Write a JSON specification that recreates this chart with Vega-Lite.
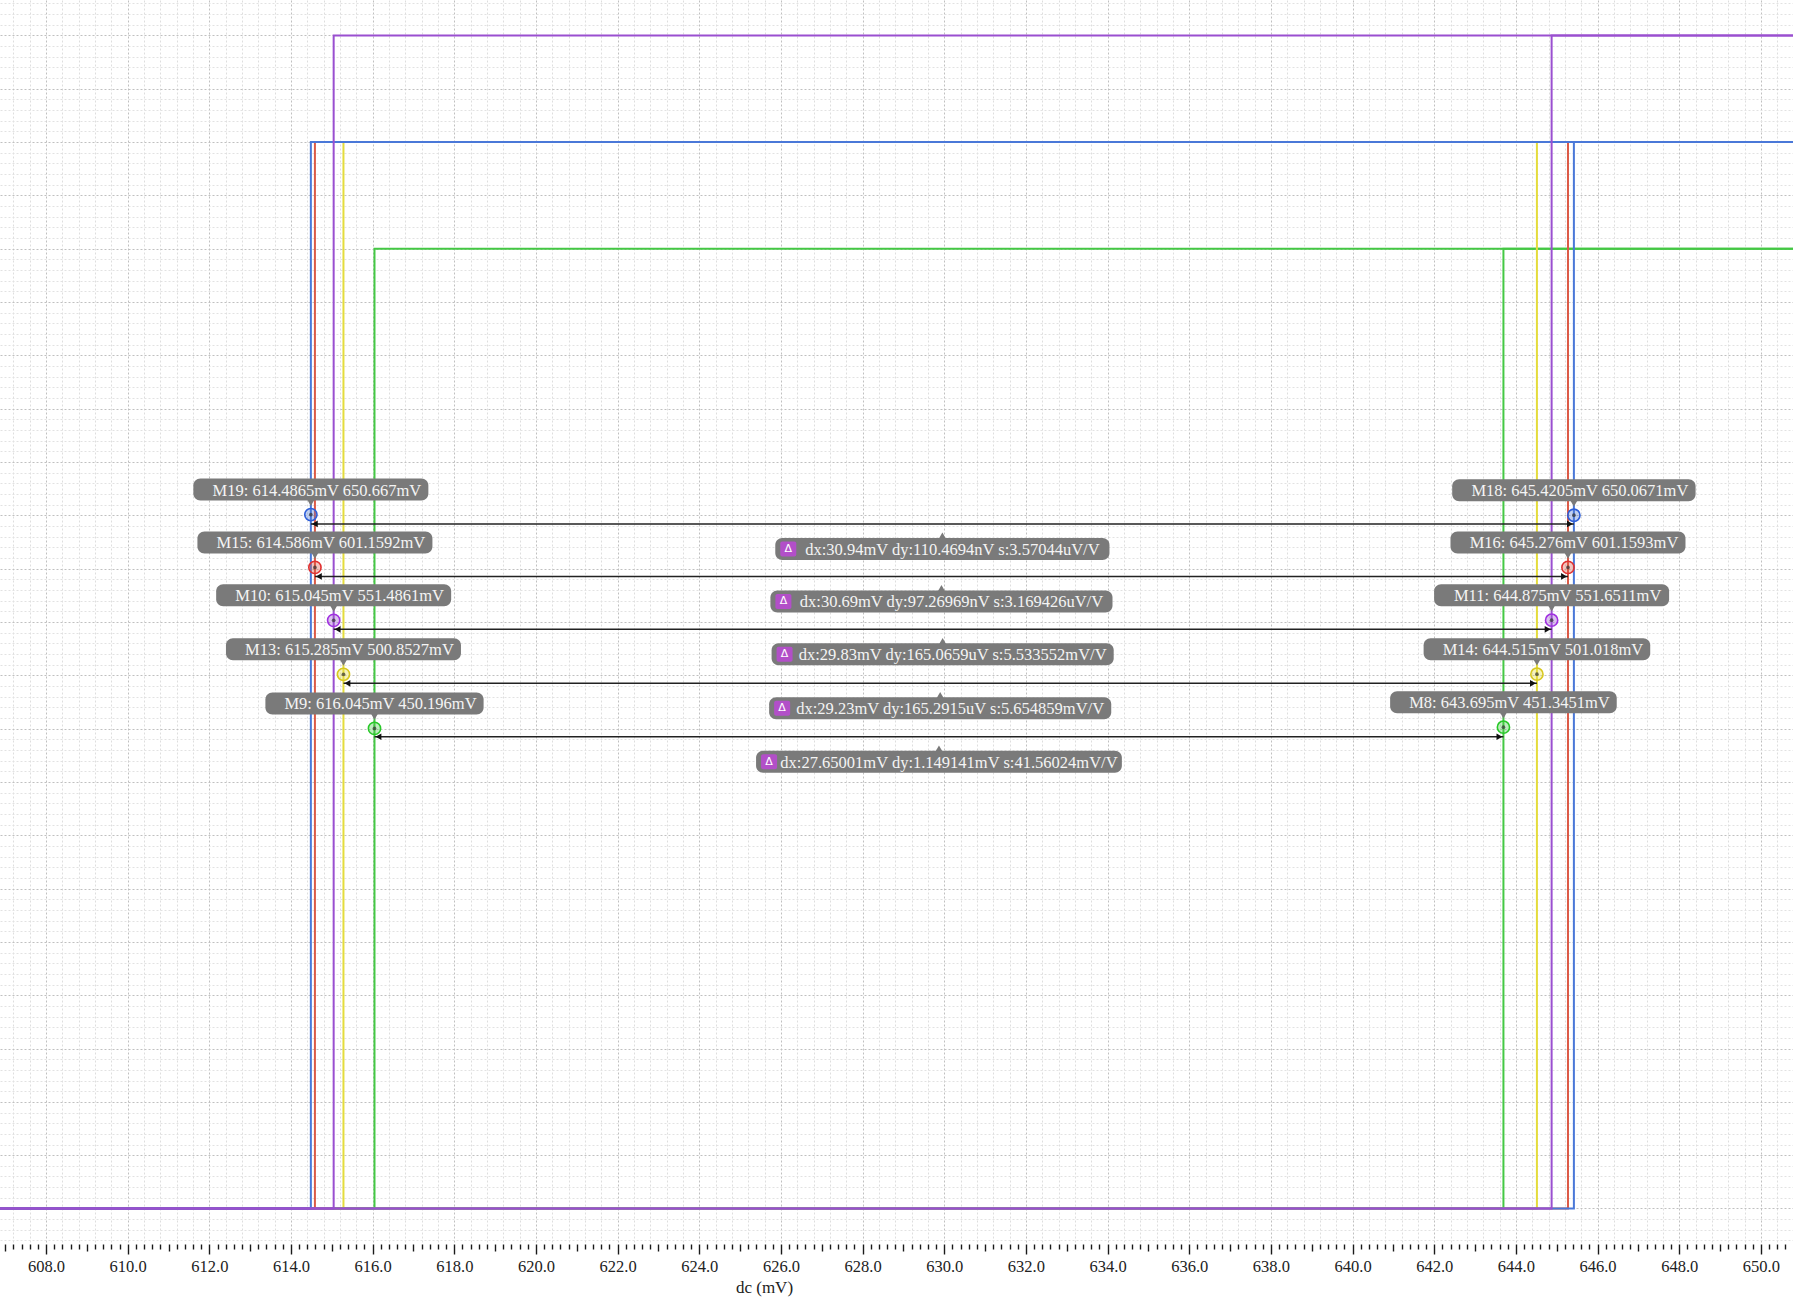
{
  "$schema": "https://vega.github.io/schema/vega-lite/v6.json",
  "width": 1793,
  "height": 1244,
  "autosize": {"type": "none"},
  "padding": {"left": 0, "top": 0, "right": 0, "bottom": 61},
  "background": "#ffffff",
  "config": {"view": {"stroke": null}},
  "datasets": {
    "traces": [
      {"trace": "green", "sweep": "up", "i": 0, "x": 600, "y": 0},
      {"trace": "green", "sweep": "up", "i": 1, "x": 616.045, "y": 0},
      {"trace": "green", "sweep": "up", "i": 2, "x": 616.045, "y": 900},
      {"trace": "green", "sweep": "up", "i": 3, "x": 660, "y": 900},
      {"trace": "green", "sweep": "down", "i": 0, "x": 660, "y": 900},
      {"trace": "green", "sweep": "down", "i": 1, "x": 643.695, "y": 900},
      {"trace": "green", "sweep": "down", "i": 2, "x": 643.695, "y": 0},
      {"trace": "green", "sweep": "down", "i": 3, "x": 600, "y": 0},
      {"trace": "yellow", "sweep": "up", "i": 0, "x": 600, "y": 0},
      {"trace": "yellow", "sweep": "up", "i": 1, "x": 615.285, "y": 0},
      {"trace": "yellow", "sweep": "up", "i": 2, "x": 615.285, "y": 1000},
      {"trace": "yellow", "sweep": "up", "i": 3, "x": 660, "y": 1000},
      {"trace": "yellow", "sweep": "down", "i": 0, "x": 660, "y": 1000},
      {"trace": "yellow", "sweep": "down", "i": 1, "x": 644.515, "y": 1000},
      {"trace": "yellow", "sweep": "down", "i": 2, "x": 644.515, "y": 0},
      {"trace": "yellow", "sweep": "down", "i": 3, "x": 600, "y": 0},
      {"trace": "red", "sweep": "up", "i": 0, "x": 600, "y": 0},
      {"trace": "red", "sweep": "up", "i": 1, "x": 614.586, "y": 0},
      {"trace": "red", "sweep": "up", "i": 2, "x": 614.586, "y": 1000},
      {"trace": "red", "sweep": "up", "i": 3, "x": 660, "y": 1000},
      {"trace": "red", "sweep": "down", "i": 0, "x": 660, "y": 1000},
      {"trace": "red", "sweep": "down", "i": 1, "x": 645.276, "y": 1000},
      {"trace": "red", "sweep": "down", "i": 2, "x": 645.276, "y": 0},
      {"trace": "red", "sweep": "down", "i": 3, "x": 600, "y": 0},
      {"trace": "blue", "sweep": "up", "i": 0, "x": 600, "y": 0},
      {"trace": "blue", "sweep": "up", "i": 1, "x": 614.4865, "y": 0},
      {"trace": "blue", "sweep": "up", "i": 2, "x": 614.4865, "y": 1000},
      {"trace": "blue", "sweep": "up", "i": 3, "x": 660, "y": 1000},
      {"trace": "blue", "sweep": "down", "i": 0, "x": 660, "y": 1000},
      {"trace": "blue", "sweep": "down", "i": 1, "x": 645.4205, "y": 1000},
      {"trace": "blue", "sweep": "down", "i": 2, "x": 645.4205, "y": 0},
      {"trace": "blue", "sweep": "down", "i": 3, "x": 600, "y": 0},
      {"trace": "purple", "sweep": "up", "i": 0, "x": 600, "y": 0},
      {"trace": "purple", "sweep": "up", "i": 1, "x": 615.045, "y": 0},
      {"trace": "purple", "sweep": "up", "i": 2, "x": 615.045, "y": 1100},
      {"trace": "purple", "sweep": "up", "i": 3, "x": 660, "y": 1100},
      {"trace": "purple", "sweep": "down", "i": 0, "x": 660, "y": 1100},
      {"trace": "purple", "sweep": "down", "i": 1, "x": 644.875, "y": 1100},
      {"trace": "purple", "sweep": "down", "i": 2, "x": 644.875, "y": 0},
      {"trace": "purple", "sweep": "down", "i": 3, "x": 600, "y": 0}
    ],
    "markers": [
      {"label": "M19: 614.4865mV 650.667mV", "trace": "blue", "pair": 1, "x": 614.4865, "y": 650.667, "delta": "dx:30.94mV dy:110.4694nV s:3.57044uV/V"},
      {"label": "M18: 645.4205mV 650.0671mV", "trace": "blue", "pair": 1, "x": 645.4205, "y": 650.0671, "delta": "dx:30.94mV dy:110.4694nV s:3.57044uV/V"},
      {"label": "M15: 614.586mV 601.1592mV", "trace": "red", "pair": 2, "x": 614.586, "y": 601.1592, "delta": "dx:30.69mV dy:97.26969nV s:3.169426uV/V"},
      {"label": "M16: 645.276mV 601.1593mV", "trace": "red", "pair": 2, "x": 645.276, "y": 601.1593, "delta": "dx:30.69mV dy:97.26969nV s:3.169426uV/V"},
      {"label": "M10: 615.045mV 551.4861mV", "trace": "purple", "pair": 3, "x": 615.045, "y": 551.4861, "delta": "dx:29.83mV dy:165.0659uV s:5.533552mV/V"},
      {"label": "M11: 644.875mV 551.6511mV", "trace": "purple", "pair": 3, "x": 644.875, "y": 551.6511, "delta": "dx:29.83mV dy:165.0659uV s:5.533552mV/V"},
      {"label": "M13: 615.285mV 500.8527mV", "trace": "yellow", "pair": 4, "x": 615.285, "y": 500.8527, "delta": "dx:29.23mV dy:165.2915uV s:5.654859mV/V"},
      {"label": "M14: 644.515mV 501.018mV", "trace": "yellow", "pair": 4, "x": 644.515, "y": 501.018, "delta": "dx:29.23mV dy:165.2915uV s:5.654859mV/V"},
      {"label": "M9: 616.045mV 450.196mV", "trace": "green", "pair": 5, "x": 616.045, "y": 450.196, "delta": "dx:27.65001mV dy:1.149141mV s:41.56024mV/V"},
      {"label": "M8: 643.695mV 451.3451mV", "trace": "green", "pair": 5, "x": 643.695, "y": 451.3451, "delta": "dx:27.65001mV dy:1.149141mV s:41.56024mV/V"}
    ]
  },
  "layer": [
    {
      "data": {"name": "traces"},
      "mark": {"type": "line", "clip": true, "strokeWidth": 2, "interpolate": "linear"},
      "encoding": {
        "x": {
          "field": "x", "type": "quantitative",
          "scale": {"domain": [606.873, 650.787], "nice": false, "zero": false},
          "axis": {
            "orient": "bottom",
            "tickCount": 220,
            "domain": false,
            "grid": true,
            "gridDash": [2, 2],
            "gridWidth": 1,
            "gridColor": {"condition": {"test": "abs(datum.value/2 - round(datum.value/2)) < 0.001", "value": "#c0c0c0"}, "value": "#dedede"},
            "gridOpacity": {"condition": {"test": "abs(datum.value/0.4 - round(datum.value/0.4)) < 0.001", "value": 1}, "value": 0},
            "ticks": true,
            "tickColor": "#1a1a1a",
            "tickWidth": 1.4,
            "tickSize": {"condition": [
              {"test": "abs(datum.value/2 - round(datum.value/2)) < 0.001", "value": 10},
              {"test": "abs(datum.value - round(datum.value)) < 0.001", "value": 7}
            ], "value": 5},
            "labelExpr": "abs(datum.value/2 - round(datum.value/2)) < 0.001 ? format(datum.value, '.1f') : ''",
            "labelFont": "Liberation Serif",
            "labelFontSize": 16.5,
            "labelColor": "#222222",
            "labelBaseline": "middle",
            "labelPadding": 12,
            "labelOverlap": false,
            "labelFlush": false,
            "title": "dc (mV)",
            "titleFont": "Liberation Serif",
            "titleFontSize": 17,
            "titleFontWeight": "normal",
            "titleColor": "#222222",
            "titleX": 764,
            "titleY": 43,
            "titleAlign": "center",
            "titleBaseline": "middle"
          }
        },
        "y": {
          "field": "y", "type": "quantitative",
          "scale": {"domain": [-33.3, 1133.2], "nice": false, "zero": false},
          "axis": {
            "orient": "left",
            "tickCount": 117,
            "domain": false,
            "ticks": false,
            "labels": false,
            "title": null,
            "grid": true,
            "gridDash": [2, 2],
            "gridColor": {"condition": {"test": "abs(datum.value/50 - round(datum.value/50)) < 0.001", "value": "#c0c0c0"}, "value": "#e2e2e2"}
          }
        },
        "color": {
          "field": "trace", "type": "nominal", "legend": null,
          "scale": {"domain": ["blue", "red", "purple", "yellow", "green"], "range": ["#4a78d8", "#dc5a46", "#9a4fd0", "#e4dc3c", "#44c844"]}
        },
        "detail": {"field": "sweep"},
        "order": {"field": "i", "type": "quantitative"}
      }
    },
    {
      "data": {"name": "markers"},
      "mark": {"type": "rule", "color": "#222222", "strokeWidth": 1.5, "yOffset": 9},
      "encoding": {
        "x": {"aggregate": "min", "field": "x", "type": "quantitative"},
        "x2": {"aggregate": "max", "field": "x"},
        "y": {"aggregate": "mean", "field": "y", "type": "quantitative"},
        "detail": {"field": "pair"}
      }
    },
    {
      "data": {"name": "markers"},
      "mark": {"type": "point", "shape": "triangle-left", "filled": true, "color": "#111111", "size": 45, "yOffset": 9, "xOffset": 4},
      "encoding": {
        "x": {"aggregate": "min", "field": "x", "type": "quantitative"},
        "y": {"aggregate": "mean", "field": "y", "type": "quantitative"},
        "detail": {"field": "pair"}
      }
    },
    {
      "data": {"name": "markers"},
      "mark": {"type": "point", "shape": "triangle-right", "filled": true, "color": "#111111", "size": 45, "yOffset": 9, "xOffset": -4},
      "encoding": {
        "x": {"aggregate": "max", "field": "x", "type": "quantitative"},
        "y": {"aggregate": "mean", "field": "y", "type": "quantitative"},
        "detail": {"field": "pair"}
      }
    },
    {
      "data": {"name": "markers"},
      "mark": {"type": "point", "shape": "circle", "filled": true, "size": 150, "fillOpacity": 0.35, "strokeWidth": 1.6, "strokeOpacity": 1},
      "encoding": {
        "x": {"field": "x", "type": "quantitative"},
        "y": {"field": "y", "type": "quantitative"},
        "color": {"field": "trace", "type": "nominal", "legend": null},
        "stroke": {"field": "trace", "type": "nominal", "legend": null, "scale": {"domain": ["blue", "red", "purple", "yellow", "green"], "range": ["#2f5fd8", "#e03030", "#a030e0", "#d8c820", "#28c828"]}}
      }
    },
    {
      "data": {"name": "markers"},
      "mark": {"type": "point", "shape": "circle", "filled": true, "size": 14, "color": "#333333"},
      "encoding": {
        "x": {"field": "x", "type": "quantitative"},
        "y": {"field": "y", "type": "quantitative"}
      }
    },
    {
      "data": {"name": "markers"},
      "mark": {"type": "point", "shape": "triangle-down", "filled": true, "color": "#7a7a7a", "size": 60, "yOffset": -12, "opacity": 1},
      "encoding": {
        "x": {"field": "x", "type": "quantitative"},
        "y": {"field": "y", "type": "quantitative"}
      }
    },
    {
      "data": {"name": "markers"},
      "mark": {"type": "rect", "color": "#7a7a7a", "opacity": 1, "height": 22, "width": {"expr": "length(datum.label)*8.4+25"}, "cornerRadius": 7, "yOffset": -25},
      "encoding": {
        "x": {"field": "x", "type": "quantitative"},
        "y": {"field": "y", "type": "quantitative"},
        "detail": {"field": "label"}
      }
    },
    {
      "data": {"name": "markers"},
      "mark": {"type": "text", "font": "Liberation Serif", "fontSize": 16.5, "color": "#f4f4f4", "align": "center", "baseline": "middle", "yOffset": -24, "xOffset": 6},
      "encoding": {
        "x": {"field": "x", "type": "quantitative"},
        "y": {"field": "y", "type": "quantitative"},
        "text": {"field": "label"}
      }
    },
    {
      "data": {"name": "markers"},
      "mark": {"type": "point", "shape": "triangle-up", "filled": true, "color": "#7a7a7a", "size": 60, "yOffset": 21, "opacity": 1},
      "encoding": {
        "x": {"aggregate": "mean", "field": "x", "type": "quantitative"},
        "y": {"aggregate": "mean", "field": "y", "type": "quantitative"},
        "detail": {"field": "pair"}
      }
    },
    {
      "data": {"name": "markers"},
      "mark": {"type": "rect", "color": "#7a7a7a", "opacity": 1, "height": 22, "width": {"expr": "length(datum.delta)*7.9+34"}, "cornerRadius": 7, "yOffset": 34},
      "encoding": {
        "x": {"aggregate": "mean", "field": "x", "type": "quantitative"},
        "y": {"aggregate": "mean", "field": "y", "type": "quantitative"},
        "detail": {"field": "delta"}
      }
    },
    {
      "data": {"name": "markers"},
      "mark": {"type": "rect", "color": "#b24fc8", "opacity": 1, "height": 15, "width": 16, "cornerRadius": 2, "yOffset": 34, "xOffset": {"expr": "-(length(datum.delta)*7.9+34)/2+13"}},
      "encoding": {
        "x": {"aggregate": "mean", "field": "x", "type": "quantitative"},
        "y": {"aggregate": "mean", "field": "y", "type": "quantitative"},
        "detail": {"field": "delta"}
      }
    },
    {
      "data": {"name": "markers"},
      "mark": {"type": "text", "text": "Δ", "font": "DejaVu Sans", "fontSize": 11, "color": "#ffffff", "align": "center", "baseline": "middle", "yOffset": 34, "xOffset": {"expr": "-(length(datum.delta)*7.9+34)/2+13"}},
      "encoding": {
        "x": {"aggregate": "mean", "field": "x", "type": "quantitative"},
        "y": {"aggregate": "mean", "field": "y", "type": "quantitative"},
        "detail": {"field": "delta"}
      }
    },
    {
      "data": {"name": "markers"},
      "mark": {"type": "text", "font": "Liberation Serif", "fontSize": 16.5, "color": "#f4f4f4", "align": "center", "baseline": "middle", "yOffset": 35, "xOffset": 10},
      "encoding": {
        "x": {"aggregate": "mean", "field": "x", "type": "quantitative"},
        "y": {"aggregate": "mean", "field": "y", "type": "quantitative"},
        "text": {"field": "delta"}
      }
    }
  ]
}
